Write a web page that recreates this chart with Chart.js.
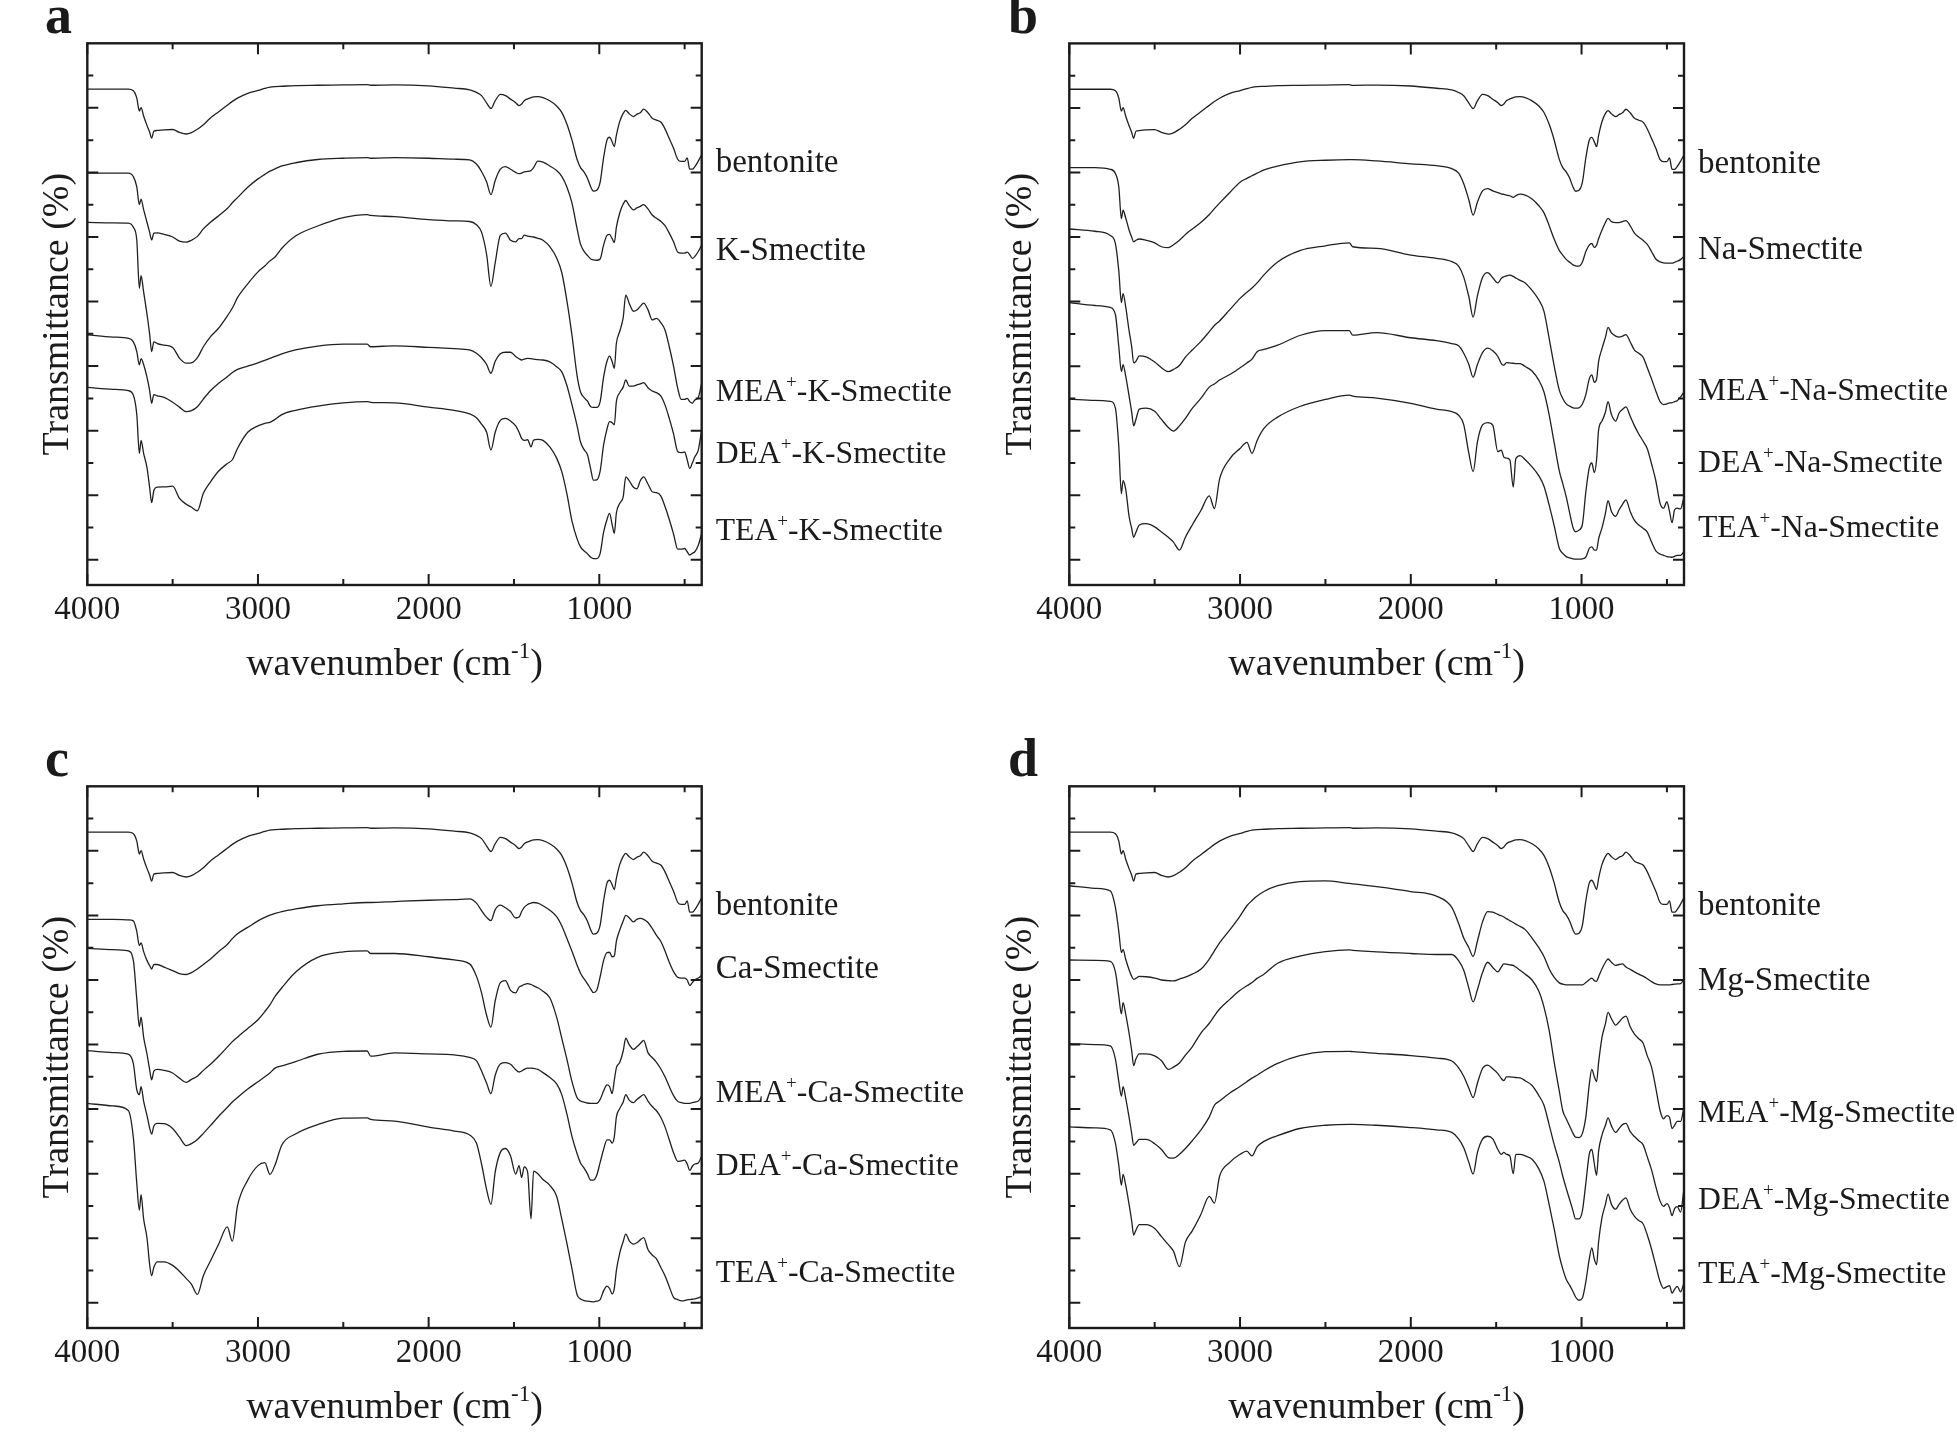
<!DOCTYPE html>
<html>
<head>
<meta charset="utf-8">
<script src="https://cdn.jsdelivr.net/npm/chart.js@4.4.1/dist/chart.umd.min.js"></script>
<style>
html,body{margin:0;padding:0;background:#ffffff;}
#wrap{position:relative;width:1957px;height:1439px;overflow:hidden;background:#fff;}
canvas{position:absolute;}
</style>
</head>
<body>
<div id="wrap">
<canvas id="cv-a"></canvas>
<canvas id="cv-b"></canvas>
<canvas id="cv-c"></canvas>
<canvas id="cv-d"></canvas>
</div>
<script>
// ---------------- DATA ----------------
const wavenumbers = [
4000,3850,3760,3730,3710,3695,3685,3670,3650,3635,
3623,3610,3590,3550,3500,3460,3420,3390,3355,3320,
3280,3230,3180,3150,3120,3060,3000,2960,2930,2900,
2860,2780,2650,2500,2360,2340,2200,2000,1850,1760,
1720,1690,1660,1635,1610,1580,1550,1520,1490,1470,
1455,1440,1420,1400,1385,1360,1330,1290,1250,1220,
1190,1160,1130,1110,1090,1070,1050,1035,1015,995,
975,955,940,925,912,900,880,860,845,825,
800,780,760,740,715,690,665,640,615,590,
565,540,520,500,485,470,455,440,420,400];

const bentonite = [
145.8,145.8,145.8,145.3,143.0,139.0,140.1,137.5,134.5,132.5,
130.6,132.8,133.0,133.2,133.3,132.4,131.9,132.3,133.4,134.8,
136.8,138.8,140.8,142.0,143.0,144.5,145.4,146.0,146.4,146.6,
146.7,146.9,147.0,147.1,147.2,147.0,147.1,146.8,146.1,145.6,
144.8,143.8,141.5,139.8,142.2,144.2,143.8,142.7,141.6,140.7,
141.2,142.2,142.8,143.2,143.4,143.5,143.2,142.2,140.6,138.6,
135.0,130.0,124.0,121.5,120.2,118.3,115.5,114.2,114.5,117.0,
124.5,130.0,130.9,129.5,128.0,131.5,135.8,138.3,139.2,138.2,
137.3,138.0,138.5,139.6,138.5,136.8,136.2,135.6,133.5,130.5,
127.5,124.0,123.4,123.4,124.5,121.0,121.0,121.8,123.5,125.5];

const kSmectite = [
119.8,119.8,119.8,118.7,115.5,110.0,111.7,108.5,104.5,101.5,
99.1,101.2,101.3,100.8,100.0,98.7,98.4,99.0,100.2,102.5,
104.5,106.6,108.8,110.6,112.2,115.4,118.0,119.4,120.4,121.1,
122.0,123.0,124.0,124.4,124.6,124.4,124.6,124.4,124.1,123.9,
122.6,120.3,117.0,113.1,117.5,121.0,121.8,121.0,120.0,119.6,
119.8,120.2,120.3,120.6,121.5,123.5,123.2,122.0,120.6,118.8,
115.5,110.5,102.5,97.8,95.6,94.3,93.2,92.9,92.8,93.2,
97.5,100.5,100.8,99.5,98.3,103.0,107.5,110.2,111.3,109.8,
108.4,109.0,109.5,110.0,108.7,106.8,105.8,104.9,103.5,101.2,
98.5,95.3,95.0,95.0,95.3,94.5,93.4,94.0,95.5,97.5];

const meaK = [
104.5,104.4,104.3,103.0,99.0,84.1,88.0,83.0,76.0,70.0,
64.5,67.5,67.0,66.5,65.8,62.5,60.9,61.0,62.6,66.0,
69.0,71.8,75.5,78.0,81.2,85.5,89.2,91.0,92.6,93.8,
96.5,100.3,103.4,106.0,106.9,106.7,106.3,105.4,105.0,104.8,
103.8,101.5,94.5,84.7,92.0,100.5,101.2,99.0,98.5,99.5,
99.5,100.6,100.3,100.1,100.0,99.6,99.0,97.0,93.5,89.0,
80.3,69.5,57.0,52.0,50.3,49.2,47.4,47.2,47.2,49.0,
56.5,61.5,63.1,61.5,59.3,67.0,70.8,75.0,82.0,79.5,
77.0,77.4,78.5,79.5,77.5,74.3,74.8,73.5,71.2,66.0,
60.0,53.0,49.7,49.7,50.0,49.0,48.5,49.5,50.3,54.7];

const deaK = [
69.7,69.0,68.6,67.5,64.5,60.4,62.3,60.5,56.5,52.5,
48.5,51.2,50.8,50.3,48.8,47.3,45.9,46.2,47.4,49.8,
52.3,54.7,56.7,58.0,59.0,60.0,61.0,61.8,62.4,63.0,
63.8,65.0,66.2,66.8,66.8,66.0,66.3,65.8,65.4,65.0,
64.0,62.6,60.5,57.8,61.5,63.8,64.3,64.3,63.0,62.3,
61.9,62.2,62.4,62.3,62.2,62.0,61.9,61.3,59.8,58.2,
54.0,48.0,41.5,36.5,34.2,32.6,28.0,24.7,24.8,27.5,
35.5,40.5,42.8,42.5,41.8,49.0,51.8,53.5,55.7,53.8,
53.8,54.2,54.5,54.9,53.3,52.3,51.8,50.8,48.0,43.8,
39.0,33.5,33.2,33.4,31.0,28.3,30.0,31.9,34.0,40.2];

const teaK = [
53.4,52.8,52.4,51.0,45.0,33.0,37.0,33.0,28.5,22.5,
17.7,21.5,22.5,22.6,22.8,19.0,17.2,16.3,15.2,20.6,
24.0,27.5,29.8,31.0,34.5,39.5,41.5,42.3,42.6,43.5,
45.0,46.3,47.6,48.6,49.0,48.8,48.6,47.3,46.3,45.2,
44.0,42.0,39.5,34.0,39.5,43.2,43.8,43.0,41.5,39.5,
37.6,37.0,37.2,35.0,37.1,37.3,37.0,35.0,31.5,27.3,
20.5,12.0,6.5,4.0,2.8,1.9,0.8,0.4,0.4,2.0,
8.5,12.5,14.4,11.0,8.2,14.5,17.5,19.5,25.7,24.5,
22.5,22.0,24.5,25.7,23.5,21.1,20.8,19.8,16.5,12.5,
8.0,3.3,3.3,3.5,2.5,1.5,2.0,2.5,4.5,8.2];

const naSmectite = [
121.5,121.5,121.0,119.7,115.5,105.7,108.3,106.0,102.2,100.0,
98.5,99.0,99.4,99.0,98.2,97.0,96.7,97.6,99.0,100.8,
102.5,104.5,107.0,108.8,110.5,113.8,117.0,118.2,119.0,119.8,
120.8,122.0,123.3,123.8,124.0,124.0,123.6,122.7,122.1,121.2,
119.8,116.5,111.5,106.8,110.8,114.3,115.0,114.3,113.8,113.4,
113.2,113.0,112.8,112.3,112.8,113.3,113.0,111.8,109.7,107.5,
103.6,99.3,95.8,94.4,93.1,92.2,91.4,91.1,91.0,92.3,
95.5,97.5,98.0,96.8,97.5,99.5,102.2,104.5,105.8,104.8,
104.5,104.5,104.8,105.1,103.5,101.2,100.0,99.0,97.7,95.5,
93.2,92.3,92.0,91.9,91.9,91.9,92.2,92.5,93.0,94.0];

const meaNa = [
102.5,101.8,100.5,98.0,89.5,79.7,82.5,78.5,71.0,66.2,
61.0,61.5,63.2,62.9,61.3,59.5,58.3,59.0,60.2,62.8,
65.0,67.6,70.7,72.6,74.0,77.5,81.0,82.9,84.2,85.8,
88.3,92.3,95.8,97.3,98.2,97.0,96.5,94.4,93.4,92.4,
91.0,87.6,81.5,75.2,81.8,87.5,89.0,87.4,85.8,87.2,
87.7,88.0,88.2,87.8,87.3,86.6,85.8,83.5,80.5,77.0,
68.7,60.0,52.5,50.0,48.3,47.6,47.1,47.0,47.1,48.3,
51.2,56.0,57.3,55.0,56.0,61.5,65.5,69.0,72.0,70.3,
69.3,69.0,69.3,69.8,67.5,65.0,64.0,62.8,59.5,56.0,
52.3,49.0,48.1,48.3,48.6,48.7,49.0,49.3,50.5,52.0];

const deaNa = [
79.7,78.8,78.2,76.0,66.0,58.3,60.5,57.0,50.8,45.9,
41.5,43.5,46.7,47.0,46.0,43.5,41.0,39.9,41.5,43.8,
46.9,50.0,53.5,54.5,55.7,57.4,59.5,61.0,62.2,64.5,
65.2,66.5,69.5,71.0,71.0,69.6,70.4,68.8,67.9,67.0,
66.3,64.0,60.5,56.6,60.5,64.2,65.6,64.8,63.0,60.8,
60.3,61.1,61.0,60.9,60.8,60.8,59.9,58.5,55.6,52.0,
45.0,36.2,27.5,23.6,19.6,14.6,10.0,8.7,9.2,11.0,
21.0,28.5,30.0,27.0,31.0,40.3,43.0,45.8,49.0,45.0,
43.0,45.5,46.6,47.4,44.5,41.5,39.0,36.8,34.4,29.7,
24.5,17.5,16.0,18.0,15.0,11.5,15.5,16.0,15.8,19.5];

const teaNa = [
49.8,49.4,49.1,47.0,35.0,20.5,24.5,22.0,13.5,9.8,
7.0,8.5,10.8,11.2,10.2,8.6,7.0,5.5,3.0,7.0,
10.8,15.2,19.8,15.9,25.0,31.3,34.5,36.4,33.0,37.0,
40.7,44.2,47.5,49.7,51.0,50.7,50.1,48.5,46.7,45.9,
44.8,41.9,33.0,27.3,36.5,41.8,42.5,41.7,33.5,34.0,
31.8,31.5,31.0,22.5,31.3,32.3,31.0,28.8,26.0,22.8,
17.0,10.5,3.5,2.0,1.0,0.6,0.3,0.2,0.2,0.3,
0.8,3.5,4.0,3.0,3.0,6.5,10.0,14.5,18.3,15.0,
13.5,15.5,17.2,18.6,15.0,12.2,10.8,9.8,8.6,5.5,
2.8,1.8,1.4,1.0,0.9,0.8,1.1,1.4,1.4,2.5];

const caSmectite = [
118.8,118.8,118.6,118.3,115.0,110.7,111.5,108.8,106.0,104.5,
103.4,104.8,104.8,104.0,102.9,102.0,101.7,102.3,103.4,104.8,
106.4,108.8,111.0,112.8,114.3,116.3,118.3,119.4,120.1,120.6,
121.2,122.0,123.0,123.6,124.0,124.0,124.3,124.7,124.9,125.1,
123.8,121.5,119.4,118.4,121.8,123.2,122.4,121.2,119.2,119.5,
121.2,122.5,123.4,123.8,124.0,123.8,123.0,121.6,119.6,116.8,
112.9,108.9,104.6,102.1,100.4,98.9,97.2,96.1,96.8,101.0,
106.0,108.5,108.6,107.2,107.5,112.0,115.5,118.3,120.0,119.3,
118.0,118.8,119.1,118.8,117.8,116.0,113.8,112.0,109.0,105.5,
102.6,100.8,100.6,100.6,100.0,98.3,99.2,100.0,100.6,101.5];

const meaCa = [
109.8,109.4,109.0,106.0,94.0,85.5,88.5,82.3,77.0,72.3,
69.1,71.8,72.3,72.0,71.2,69.6,68.3,69.2,70.2,72.0,
73.8,76.4,79.2,80.9,82.3,85.0,87.7,90.2,92.3,94.9,
97.6,102.4,107.0,108.7,109.0,108.2,108.2,107.2,106.2,105.0,
101.2,96.0,89.0,85.4,93.5,99.2,99.8,96.8,96.0,97.8,
98.2,98.6,98.9,98.6,98.2,97.6,96.5,94.5,88.5,82.0,
75.5,68.5,63.5,62.5,62.2,61.9,61.8,61.8,61.8,63.0,
65.6,67.5,67.0,64.8,69.0,72.8,74.5,78.0,82.0,80.0,
78.5,79.3,80.3,81.3,77.5,76.0,74.5,72.5,70.0,67.0,
64.2,62.4,62.0,61.8,61.8,61.8,62.0,62.2,62.5,64.0];

const deaCa = [
78.1,77.5,77.0,74.0,66.0,64.5,67.0,62.5,58.0,54.2,
52.3,54.8,55.6,55.5,54.0,51.3,48.7,49.3,50.6,52.5,
54.8,57.8,60.5,62.2,63.6,66.2,68.5,70.0,71.2,72.7,
73.4,74.7,77.0,77.9,78.0,76.4,77.4,77.1,76.8,76.0,
75.0,71.8,68.0,64.8,70.5,74.0,74.4,73.9,72.2,71.5,
71.8,72.3,72.7,72.7,72.6,72.3,71.3,69.8,67.8,64.5,
58.5,51.5,46.2,43.3,41.8,40.0,38.0,38.0,39.5,43.5,
47.5,50.5,50.5,49.5,51.5,57.5,60.2,62.2,64.5,62.8,
62.0,63.0,63.8,64.5,62.5,60.8,59.5,57.5,54.5,50.5,
46.5,43.8,44.0,44.2,43.0,41.0,42.3,43.0,43.3,45.5];

const teaCa = [
61.8,61.0,59.6,51.1,37.0,28.7,33.5,26.0,20.0,12.0,
8.4,11.0,12.7,12.7,11.6,9.8,7.5,5.8,2.6,8.4,
12.8,18.2,23.5,19.1,30.0,38.0,42.5,43.4,39.8,42.7,
48.9,52.3,55.2,57.2,57.3,56.8,56.3,54.4,53.2,52.0,
49.5,43.0,35.0,30.5,40.5,46.6,47.8,45.5,39.9,42.5,
38.8,42.1,40.5,26.0,40.8,40.0,38.2,36.4,33.0,26.0,
18.5,10.5,2.5,1.2,0.7,0.5,0.4,0.3,0.5,1.0,
3.7,5.2,4.5,2.8,4.5,10.0,15.5,19.0,21.3,19.3,
18.2,18.6,19.5,20.2,16.5,14.8,13.6,11.0,8.4,5.0,
1.7,1.0,0.6,0.7,0.9,1.0,1.1,1.2,1.5,2.0];

const mgSmectite = [
129.2,128.4,127.6,122.5,115.0,108.5,109.4,106.5,103.2,101.2,
100.2,100.5,101.1,101.0,100.6,100.0,99.8,99.7,100.3,100.9,
101.8,103.3,106.5,109.0,111.5,115.5,119.8,123.0,124.6,126.0,
127.4,129.2,130.5,130.7,129.9,129.8,128.9,127.4,126.0,122.5,
117.5,113.0,110.0,107.3,112.0,118.0,121.2,121.0,120.3,119.9,
119.5,119.0,118.4,117.8,117.3,116.6,115.6,113.0,110.0,107.3,
103.5,100.8,99.1,98.7,98.5,98.5,98.5,98.5,98.5,98.5,
99.2,100.1,100.6,99.8,99.6,101.0,103.5,105.5,106.5,105.5,
104.5,104.8,105.0,104.0,103.3,102.5,101.8,101.2,100.4,99.5,
98.8,98.5,98.5,98.5,98.5,98.6,98.7,98.8,98.9,100.2];

const meaMg = [
106.2,106.1,105.8,102.5,95.0,89.5,93.0,89.5,83.5,78.3,
73.5,75.5,77.1,77.1,76.5,75.0,72.3,73.0,74.3,76.7,
79.3,83.5,86.6,88.9,91.0,94.0,96.8,98.2,99.2,100.5,
101.8,105.2,107.4,108.8,109.3,109.2,108.7,108.2,107.9,107.9,
106.0,103.0,97.5,93.2,97.0,102.3,105.5,103.9,102.5,104.0,
105.0,104.9,104.7,104.5,104.0,103.0,101.8,100.0,96.5,91.6,
84.5,74.5,65.5,59.5,57.0,54.8,52.5,51.3,51.2,52.5,
57.5,67.5,72.3,70.0,68.5,74.5,82.3,86.5,90.0,88.0,
86.0,87.0,88.2,88.8,85.5,83.2,81.8,80.5,76.5,73.0,
66.5,59.5,57.0,58.0,57.5,54.0,55.0,56.2,56.2,60.5];

const deaMg = [
80.3,80.0,79.6,75.5,68.5,64.0,67.0,63.5,57.5,52.6,
48.8,49.5,50.6,50.6,49.3,47.5,45.0,44.8,46.0,47.8,
50.2,53.5,57.6,61.2,62.5,65.0,67.0,68.5,69.6,70.5,
71.9,74.2,76.6,77.8,77.9,77.8,77.3,76.6,75.8,74.9,
72.8,70.2,66.5,63.6,68.0,72.6,73.6,72.5,71.0,69.5,
68.8,70.0,70.0,69.9,69.8,69.7,68.8,67.3,64.2,61.2,
55.2,49.0,43.5,39.2,35.5,32.0,28.5,26.0,26.0,28.5,
37.0,46.0,47.5,43.0,39.5,47.0,52.0,55.0,57.3,54.8,
52.8,54.0,55.2,55.6,53.0,51.5,50.2,49.0,45.2,41.2,
36.0,31.5,29.9,30.7,29.5,27.0,29.2,29.8,28.1,35.4];

const teaMg = [
54.5,54.2,53.6,49.5,42.5,36.5,39.8,36.5,30.5,25.5,
21.0,22.5,24.2,24.2,23.0,20.5,18.0,16.0,11.2,18.8,
22.3,27.3,33.0,30.9,39.2,43.5,46.0,47.0,45.5,48.3,
50.0,51.8,54.0,55.0,55.3,55.3,55.0,54.3,53.6,52.8,
50.8,48.0,43.5,39.9,46.5,50.7,51.6,50.8,47.5,46.0,
46.6,46.0,45.5,40.0,46.0,46.0,45.5,44.5,41.5,37.6,
30.5,22.8,14.5,10.5,7.3,5.5,3.5,1.8,0.8,1.5,
6.5,13.5,17.0,13.5,11.8,19.0,26.5,30.5,33.7,30.5,
29.0,30.5,31.8,32.5,29.0,26.8,25.5,24.5,21.0,16.6,
11.5,6.5,4.5,5.0,5.3,3.0,4.2,5.1,3.4,6.2];

const xTickLabels = [4000, 3000, 2000, 1000];
const xMinorTicks = [3500, 2500, 1500, 500];
const yTickValues = [0,10,20,30,40,50,60,70,80,90,100,110,120,130,140,150];

const namesA = ['bentonite','K-Smectite','MEA^+^-K-Smectite','DEA^+^-K-Smectite','TEA^+^-K-Smectite'];
const namesB = ['bentonite','Na-Smectite','MEA^+^-Na-Smectite','DEA^+^-Na-Smectite','TEA^+^-Na-Smectite'];
const namesC = ['bentonite','Ca-Smectite','MEA^+^-Ca-Smectite','DEA^+^-Ca-Smectite','TEA^+^-Ca-Smectite'];
const namesD = ['bentonite','Mg-Smectite','MEA^+^-Mg-Smectite','DEA^+^-Mg-Smectite','TEA^+^-Mg-Smectite'];

// ---------------- LAYOUT ----------------
const FONT = '"Liberation Serif", "Times New Roman", serif';
const INK = '#1b1b1b';
const panels = [
  {letter:'a', canvas:[0,0,980,720],   plot:[87.3,701.7,43.3,585],    letterAt:[45,33.3],   yTitleX:68,
   series:[bentonite,kSmectite,meaK,deaK,teaK], names:namesA, labelAt:[120,93,49.3,30,6]},
  {letter:'b', canvas:[980,0,977,720], plot:[1069.3,1684,43.4,585],   letterAt:[1008,33.3], yTitleX:1031,
   series:[bentonite,naSmectite,meaNa,deaNa,teaNa], names:namesB, labelAt:[120,93.1,49.5,27.3,7.2]},
  {letter:'c', canvas:[0,720,980,719], plot:[87.3,701.7,786.3,1328],  letterAt:[45,776.3], yTitleX:68,
   series:[bentonite,caSmectite,meaCa,deaCa,teaCa], names:namesC, labelAt:[120,100.5,62.3,39.6,6.5]},
  {letter:'d', canvas:[980,720,977,719], plot:[1069.3,1684,786.3,1328], letterAt:[1008,776.3], yTitleX:1031,
   series:[bentonite,mgSmectite,meaMg,deaMg,teaMg], names:namesD, labelAt:[120,97,56,29.1,6.1]}
];

function richWidth(ctx, text, size, supScale){
  const parts = text.split('^'); let w = 0;
  parts.forEach((t,i)=>{ if(!t) return; ctx.font = (i%2 ? Math.round(size*supScale) : size) + 'px ' + FONT; w += ctx.measureText(t).width; });
  return w;
}
function drawRich(ctx, text, x, y, size, rise, supScale){
  const parts = text.split('^'); let cx = x;
  parts.forEach((t,i)=>{
    if(!t) return;
    if(i%2){ ctx.font = Math.round(size*supScale) + 'px ' + FONT; ctx.fillText(t, cx, y - rise); }
    else { ctx.font = size + 'px ' + FONT; ctx.fillText(t, cx, y); }
    cx += ctx.measureText(t).width;
  });
}

function decorPlugin(p){
  return {
    id:'decor_'+p.letter,
    afterDraw(chart){
      const ctx = chart.ctx, a = chart.chartArea;
      const xs = chart.scales.x, ys = chart.scales.y;
      const ox = p.canvas[0], oy = p.canvas[1];
      ctx.save();
      ctx.strokeStyle = INK; ctx.fillStyle = INK;
      // frame
      ctx.lineWidth = 2.4;
      ctx.strokeRect(a.left, a.top, a.right - a.left, a.bottom - a.top);
      // ticks (inward)
      ctx.lineWidth = 2;
      ctx.beginPath();
      xTickLabels.forEach(v=>{ const x = xs.getPixelForValue(v);
        ctx.moveTo(x, a.bottom); ctx.lineTo(x, a.bottom - 11);
        ctx.moveTo(x, a.top); ctx.lineTo(x, a.top + 11); });
      xMinorTicks.forEach(v=>{ const x = xs.getPixelForValue(v);
        ctx.moveTo(x, a.bottom); ctx.lineTo(x, a.bottom - 6);
        ctx.moveTo(x, a.top); ctx.lineTo(x, a.top + 6); });
      yTickValues.forEach(v=>{ const y = ys.getPixelForValue(v); const len = (v % 20 === 0) ? 11 : 6;
        ctx.moveTo(a.left, y); ctx.lineTo(a.left + len, y);
        ctx.moveTo(a.right, y); ctx.lineTo(a.right - len, y); });
      ctx.stroke();
      // series labels
      ctx.textAlign = 'left'; ctx.textBaseline = 'alphabetic';
      p.names.forEach((n,i)=>{
        const sz = n.indexOf('^') >= 0 ? 31.7 : 33;
        drawRich(ctx, n, a.right + 14, ys.getPixelForValue(p.labelAt[i]), sz, 13, 0.6);
      });
      // x title
      const xt = 'wavenumber (cm^-1^)';
      const tw = richWidth(ctx, xt, 38, 0.6);
      drawRich(ctx, xt, (a.left + a.right)/2 - tw/2, a.bottom + 90, 38, 17, 0.6);
      // y title
      ctx.save();
      ctx.translate(p.yTitleX - ox, (a.top + a.bottom)/2);
      ctx.rotate(-Math.PI/2);
      ctx.textAlign = 'center';
      ctx.font = '38px ' + FONT;
      ctx.fillText('Transmittance (%)', 0, 0);
      ctx.restore();
      // panel letter
      ctx.textAlign = 'left';
      ctx.font = 'bold 54px ' + FONT;
      ctx.fillText(p.letter, p.letterAt[0] - ox, p.letterAt[1] - oy);
      ctx.restore();
    }
  };
}

function makeChart(p){
  const cv = document.getElementById('cv-' + p.letter);
  const [bx, by, bw, bh] = p.canvas;
  cv.width = bw; cv.height = bh;
  cv.style.left = bx + 'px'; cv.style.top = by + 'px';
  cv.style.width = bw + 'px'; cv.style.height = bh + 'px';
  const L = p.plot[0] - bx, R = p.plot[1] - bx, T = p.plot[2] - by, B = p.plot[3] - by;
  new Chart(cv, {
    type: 'line',
    data: {
      datasets: p.series.map(s => ({
        data: wavenumbers.map((w,i) => ({x: w, y: s[i]})),
        borderColor: '#202020', borderWidth: 1.3, pointRadius: 0, fill: false,
        cubicInterpolationMode: 'monotone'
      }))
    },
    options: {
      responsive: false, animation: false, events: [],
      devicePixelRatio: 1,
      layout: { padding: { left: 0, top: T, right: bw - R, bottom: 0 } },
      plugins: { legend: { display: false }, tooltip: { enabled: false }, title: { display: false } },
      scales: {
        x: {
          type: 'linear', reverse: true, min: 400, max: 4000, position: 'bottom',
          afterFit: s => { s.height = bh - B; },
          afterBuildTicks: s => { s.ticks = xTickLabels.map(v => ({ value: v })); },
          grid: { display: false, drawTicks: false }, border: { display: false },
          ticks: { font: { family: FONT, size: 33 }, color: INK, padding: 6, maxRotation: 0, autoSkip: false,
                   callback: v => String(v) }
        },
        y: {
          type: 'linear', min: -7.8, max: 160,
          afterFit: s => { s.width = L; },
          grid: { display: false, drawTicks: false }, border: { display: false },
          ticks: { display: false }
        }
      }
    },
    plugins: [decorPlugin(p)]
  });
}
panels.forEach(makeChart);
</script>
</body>
</html>
